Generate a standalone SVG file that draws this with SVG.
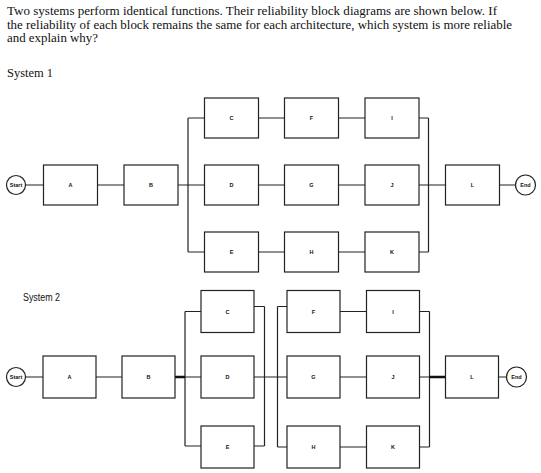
<svg xmlns="http://www.w3.org/2000/svg" width="541" height="473" viewBox="0 0 541 473">
<style>
.bg{fill:#ffffff}
.q{font-family:"Liberation Serif","Times New Roman",serif;font-size:12px;fill:#111}
.sys{font-family:"Liberation Sans",Arial,sans-serif;font-size:10px;fill:#111}
.box{fill:#ffffff;stroke:#222;stroke-width:1.2}
.lbl{font-family:"Liberation Sans",Arial,sans-serif;font-size:5.5px;font-weight:bold;fill:#111;text-anchor:middle;dominant-baseline:central}
.c{fill:none;stroke:#222;stroke-width:1.2}
.thick{fill:none;stroke:#111;stroke-width:2.4}
</style>
<rect class="bg" x="0" y="0" width="541" height="473"/>
<g id="title">
<text class="q" x="7" y="15" textLength="490" lengthAdjust="spacingAndGlyphs">Two systems perform identical functions. Their reliability block diagrams are shown below.  If</text>
<text class="q" x="7" y="29" textLength="505" lengthAdjust="spacingAndGlyphs">the reliability of each block remains the same for each architecture, which system is more reliable</text>
<text class="q" x="7" y="42" textLength="91" lengthAdjust="spacingAndGlyphs">and explain why?</text>
<text class="q" x="7" y="77" textLength="46" lengthAdjust="spacingAndGlyphs">System 1</text>
<text class="sys" x="23" y="301" textLength="37" lengthAdjust="spacingAndGlyphs">System 2</text>
</g>
<g id="connectors">
<!-- System 1 -->
<path class="c" d="M25.5 185H43.5 M97.5 185H124 M178 185H204.5 M188 118V252 M188 118H204.5 M188 252H204.5 M258.5 118H284.5 M258.5 185H284.5 M258.5 252H284.5 M338.5 118H365 M338.5 185H365 M338.5 252H365 M419 118H428.5 M419 185H445.5 M419 252H428.5 M428.5 118V252 M499.5 185H515.5"/>
<!-- System 2 -->
<path class="c" d="M25.5 377H43 M96 377H122 M185 377H201 M185 311.5V446 M185 311.5H201 M185 446H201 M254 306.5H264.5 M254 377H287 M254 446H264.5 M264.5 306.5V446 M277.5 306.5V447 M277.5 306.5H287 M277.5 447H287 M340 311.5H366.5 M340 377H366.5 M340 447H366.5 M419.5 311.5H429.5 M419.5 377H429.5 M419.5 447H429.5 M429.5 311.5V447 M498.5 377H506.5"/>
<path class="thick" d="M175 377H185 M429.5 377H445.5"/>
</g>
<g id="s1-start"><circle class="box" cx="16" cy="185" r="9.5"/><text class="lbl" x="16" y="185">Start</text></g>
<g id="s1-A"><rect class="box" x="43.5" y="165" width="54" height="40"/><text class="lbl" x="70.5" y="185">A</text></g>
<g id="s1-B"><rect class="box" x="124" y="165" width="54" height="40"/><text class="lbl" x="151" y="185">B</text></g>
<g id="s1-C"><rect class="box" x="204.5" y="98" width="54" height="40"/><text class="lbl" x="231.5" y="118">C</text></g>
<g id="s1-D"><rect class="box" x="204.5" y="165" width="54" height="40"/><text class="lbl" x="231.5" y="185">D</text></g>
<g id="s1-E"><rect class="box" x="204.5" y="232" width="54" height="40"/><text class="lbl" x="231.5" y="252">E</text></g>
<g id="s1-F"><rect class="box" x="284.5" y="98" width="54" height="40"/><text class="lbl" x="311.5" y="118">F</text></g>
<g id="s1-G"><rect class="box" x="284.5" y="165" width="54" height="40"/><text class="lbl" x="311.5" y="185">G</text></g>
<g id="s1-H"><rect class="box" x="284.5" y="232" width="54" height="40"/><text class="lbl" x="311.5" y="252">H</text></g>
<g id="s1-I"><rect class="box" x="365" y="98" width="54" height="40"/><text class="lbl" x="392" y="118">I</text></g>
<g id="s1-J"><rect class="box" x="365" y="165" width="54" height="40"/><text class="lbl" x="392" y="185">J</text></g>
<g id="s1-K"><rect class="box" x="365" y="232" width="54" height="40"/><text class="lbl" x="392" y="252">K</text></g>
<g id="s1-L"><rect class="box" x="445.5" y="165" width="54" height="40"/><text class="lbl" x="472.5" y="185">L</text></g>
<g id="s1-end"><circle class="box" cx="525.5" cy="185" r="10"/><text class="lbl" x="525.5" y="185">End</text></g>

<g id="s2-start"><circle class="box" cx="16" cy="377" r="9.5"/><text class="lbl" x="16" y="377">Start</text></g>
<g id="s2-A"><rect class="box" x="43" y="356" width="53" height="42"/><text class="lbl" x="69.5" y="377">A</text></g>
<g id="s2-B"><rect class="box" x="122" y="356" width="53" height="42"/><text class="lbl" x="148.5" y="377">B</text></g>
<g id="s2-C"><rect class="box" x="201" y="290.5" width="53" height="42"/><text class="lbl" x="227.5" y="311.5">C</text></g>
<g id="s2-D"><rect class="box" x="201" y="356" width="53" height="42"/><text class="lbl" x="227.5" y="377">D</text></g>
<g id="s2-E"><rect class="box" x="201" y="426" width="53" height="42"/><text class="lbl" x="227.5" y="447">E</text></g>
<g id="s2-F"><rect class="box" x="287" y="290.5" width="53" height="42"/><text class="lbl" x="313.5" y="311.5">F</text></g>
<g id="s2-G"><rect class="box" x="287" y="356" width="53" height="42"/><text class="lbl" x="313.5" y="377">G</text></g>
<g id="s2-H"><rect class="box" x="287" y="426" width="53" height="42"/><text class="lbl" x="313.5" y="447">H</text></g>
<g id="s2-I"><rect class="box" x="366.5" y="290.5" width="53" height="42"/><text class="lbl" x="393" y="311.5">I</text></g>
<g id="s2-J"><rect class="box" x="366.5" y="356" width="53" height="42"/><text class="lbl" x="393" y="377">J</text></g>
<g id="s2-K"><rect class="box" x="366.5" y="426" width="53" height="42"/><text class="lbl" x="393" y="447">K</text></g>
<g id="s2-L"><rect class="box" x="445.5" y="356" width="53" height="42"/><text class="lbl" x="472" y="377">L</text></g>
<g id="s2-end"><circle class="box" cx="516.5" cy="377" r="10"/><text class="lbl" x="516.5" y="377">End</text></g>
</svg>
